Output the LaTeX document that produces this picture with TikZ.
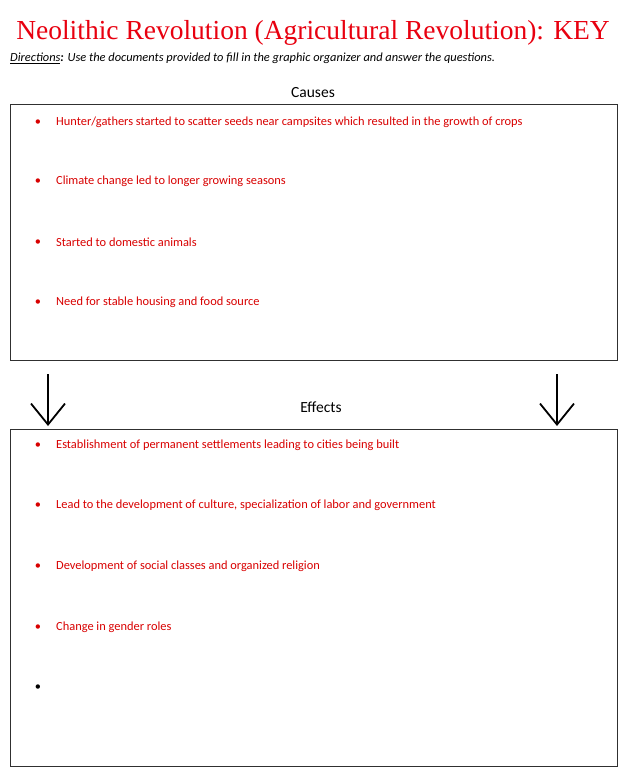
\documentclass[tikz,border=0pt]{standalone}
\usepackage{fontspec}
\setmainfont{Carlito}
\newfontfamily\titlefont{Liberation Serif}
\usepackage{tikz}
\usetikzlibrary{arrows.meta}
\definecolor{keyRed}{HTML}{D80000}
\definecolor{titleRed}{HTML}{E8000F}
\definecolor{boxGray}{HTML}{303030}

\begin{document}
\begin{tikzpicture}[x=1pt,y=-1pt,
  item/.style={anchor=west,text=keyRed,font=\fontsize{12.4}{14}\selectfont,inner sep=0pt},
  dot/.style={text=keyRed,font=\fontsize{12.4}{14}\selectfont,inner sep=0pt},
  organizer/.style={draw=boxGray,line width=1pt},
  flow/.style={line width=1.8pt,-{Straight Barb[length=21pt,width=34pt,line width=1.8pt]}}]
\useasboundingbox (0,0) rectangle (640,778);
\node[titleRed,font=\titlefont\fontsize{27.5}{30}\selectfont,inner sep=0pt] (title) at (313,33) {Neolithic Revolution (Agricultural Revolution): KEY};
\node[anchor=west,inner sep=0pt,font=\itshape\fontsize{12.4}{14}\selectfont] (dir) at (10,58) {\underline{Directions}\textbf{:} Use the documents provided to fill in the graphic organizer and answer the questions.};
\node[font=\fontsize{15.5}{17}\selectfont,inner sep=0pt] (causes) at (313,93) {Causes};
\node[font=\fontsize{15.5}{17}\selectfont,inner sep=0pt] (effects) at (321,407) {Effects};
\draw[organizer] (10,105) rectangle (617,360);
\draw[organizer] (10,429) rectangle (617,766);
% causes
\foreach \y/\t [count=\i] in {122.5/{Hunter/gathers started to scatter seeds near campsites which resulted in the growth of crops},
    181.5/Climate change led to longer growing seasons,
    242.5/Started to domestic animals,
    302.5/Need for stable housing and food source}{
  \node[dot] (cb\i) at (38,\y) {\textbullet};
  \node[item] (c\i) at (56,\y) {\t};
}
% effects
\foreach \y/\t [count=\i] in {445.5/Establishment of permanent settlements leading to cities being built,
    505.5/{Lead to the development of culture, specialization of labor and government},
    566.5/Development of social classes and organized religion,
    627.5/Change in gender roles}{
  \node[dot] (eb\i) at (38,\y) {\textbullet};
  \node[item] (e\i) at (56,\y) {\t};
}
\node[dot,text=black] (eb5) at (38,687.5) {\textbullet};
% arrows
\coordinate (la) at (48,374);
\coordinate (lb) at (48,426);
\coordinate (ra) at (557,374);
\coordinate (rb) at (557,426);
\draw[flow] (la) -- (lb);
\draw[flow] (ra) -- (rb);
\end{tikzpicture}
\end{document}
